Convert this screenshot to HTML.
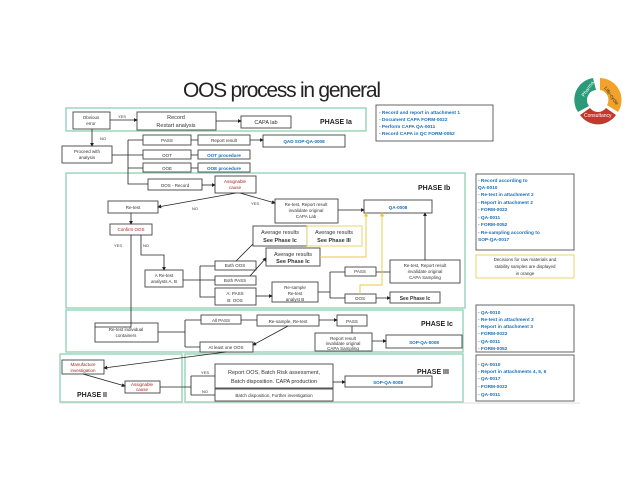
<!DOCTYPE html>
<html><head><meta charset="utf-8"><style>
html,body{margin:0;padding:0;background:#fff;width:638px;height:493px;overflow:hidden}
svg{display:block}
text{font-family:"Liberation Sans",sans-serif}
</style></head><body>
<svg width="638" height="493" viewBox="0 0 638 493" xmlns="http://www.w3.org/2000/svg">
<defs><marker id="a" markerWidth="5" markerHeight="5" refX="4" refY="2.5" orient="auto"><path d="M0,0L5,2.5L0,5z" fill="#222"/></marker>
<marker id="y" markerWidth="5" markerHeight="5" refX="4" refY="2.5" orient="auto"><path d="M0,0L5,2.5L0,5z" fill="#e8c840"/></marker></defs>
<text x="183" y="97" font-size="21" textLength="198" fill="#222">OOS process in general</text>
<!-- logo -->
<g transform="translate(598,100)">
<path d="M-5,-22 A22,22 0 0 0 -20,12 L-9,6 A10,10 0 0 1 -2,-10z" fill="#2a9a78"/>
<path d="M2,-22 A22,22 0 0 1 20,12 L9,5 A10,10 0 0 0 2,-10z" fill="#f0a22a"/>
<path d="M18,15 A22,22 0 0 1 -18,15 L-8,8 A10,10 0 0 0 8,8z" fill="#c0392b"/>
<text x="-14" y="-3" font-size="5" fill="#fff" transform="rotate(-55 -14 -3)">Pharma</text>
<text x="6" y="-12" font-size="5" fill="#333" transform="rotate(55 6 -12)">Life-cycle</text>
<text x="-14" y="17" font-size="5" fill="#fff">Consultancy</text>
</g>
<g fill="none" stroke-width="1.3">
<rect x="66" y="108" width="300" height="23" stroke="#8fd0b4"/>
<rect x="66" y="173" width="399" height="135" stroke="#8fd0b4"/>
<rect x="66" y="310" width="397" height="42" stroke="#8fd0b4"/>
<rect x="60" y="354" width="122" height="48" stroke="#8fd0b4"/>
<rect x="185" y="354" width="278" height="48" stroke="#8fd0b4"/>
</g>
<line x1="60" y1="403" x2="580" y2="403" stroke="#ddd"/>
<g fill="#fff" stroke="#444" stroke-width="0.9">
<rect x="73" y="112" width="37" height="17"/><rect x="137" y="112" width="79" height="18"/><rect x="241" y="116" width="50" height="12"/>
<rect x="62" y="146" width="50" height="17"/>
<rect x="143" y="135" width="48" height="10"/><rect x="198" y="135" width="52" height="10"/><rect x="263" y="135" width="82" height="12"/>
<rect x="143" y="150" width="48" height="9"/><rect x="198" y="150" width="52" height="9"/>
<rect x="143" y="163" width="48" height="9"/><rect x="198" y="163" width="52" height="9"/>
<rect x="148" y="179" width="54" height="11"/><rect x="215" y="176" width="41" height="17"/>
<rect x="108" y="201" width="50" height="12"/><rect x="275" y="199" width="63" height="24"/><rect x="364" y="200" width="68" height="13"/>
<rect x="110" y="224" width="42" height="11"/>
<rect x="253" y="226" width="54" height="20"/><rect x="307" y="226" width="55" height="20" stroke="#e8d060"/><rect x="266" y="248" width="54" height="18"/>
<rect x="145" y="270" width="38" height="17"/>
<rect x="215" y="261" width="41" height="9"/><rect x="215" y="276" width="41" height="9"/><rect x="215" y="288" width="41" height="17"/>
<rect x="272" y="282" width="46" height="20"/>
<rect x="345" y="267" width="31" height="9"/><rect x="345" y="294" width="31" height="9"/><rect x="390" y="292" width="50" height="11"/>
<rect x="390" y="260" width="70" height="23"/>
<rect x="95" y="323" width="63" height="19"/><rect x="201" y="315" width="40" height="9"/><rect x="257" y="315" width="62" height="11"/><rect x="337" y="315" width="30" height="11"/>
<rect x="315" y="333" width="57" height="18"/><rect x="386" y="335" width="76" height="13"/><rect x="200" y="342" width="53" height="10"/>
<rect x="62" y="360" width="42" height="14"/><rect x="125" y="381" width="35" height="12"/>
<rect x="215" y="364" width="118" height="24"/><rect x="215" y="389" width="118" height="12"/><rect x="345" y="376" width="87" height="11"/>
<rect x="376" y="105" width="117" height="36" stroke="#555"/>
<rect x="476" y="174" width="98" height="76" stroke="#555"/>
<rect x="476" y="255" width="98" height="23" stroke="#e8d060"/>
<rect x="476" y="305" width="98" height="47" stroke="#555"/>
<rect x="476" y="355" width="98" height="46" stroke="#555"/>
</g>
<g stroke="#222" stroke-width="0.8" fill="none">
<path d="M110 120H137" marker-end="url(#a)"/><path d="M216 121H241" marker-end="url(#a)"/>
<path d="M92 129V146" marker-end="url(#a)"/>
<path d="M112 155H128M128 140V184H148M128 140H143M128 155H143M128 168H143" />
<path d="M191 140H198M191 155H198M191 168H198M250 140H263" marker-end="url(#a)"/>
<path d="M202 185H215" marker-end="url(#a)"/>
<path d="M236 193L158 207" marker-end="url(#a)"/>
<path d="M240 193L275 203" marker-end="url(#a)"/>
<path d="M338 210H364" marker-end="url(#a)"/>
<path d="M131 213V224" marker-end="url(#a)"/>
<path d="M131 235V327H95"/><path d="M141 235V255H164V270" marker-end="url(#a)"/>
<path d="M183 280H200M200 266V297H215M200 266H215M200 280H215" />
<path d="M236 261L253 244M250 276L266 258" marker-end="url(#a)"/>
<path d="M256 296H272" marker-end="url(#a)"/>
<path d="M318 292H330M330 272V298M330 272H345M330 298H345"/>
<path d="M376 272H390M376 298H390" marker-end="url(#a)"/>
<path d="M425 260V213" marker-end="url(#a)"/>
<path d="M158 332H185M185 320V347M185 320H201M185 347H200" />
<path d="M241 320H257M319 320H337" marker-end="url(#a)"/>
<path d="M288 326L253 345" marker-end="url(#a)"/>
<path d="M352 326V333M372 341H386" marker-end="url(#a)"/>
<path d="M226 352L104 368" marker-end="url(#a)"/>
<path d="M83 374L125 386" marker-end="url(#a)"/>
<path d="M160 387H191M191 376V395M191 376H215M191 395H215"/>
<path d="M333 382H345" marker-end="url(#a)"/>
</g>
<g stroke="#e8c840" stroke-width="0.9" fill="none">
<path d="M320 257H366V213" marker-end="url(#y)"/><path d="M360 294V285H382V213" marker-end="url(#y)"/>
</g>
<g font-size="4.5" fill="#333" text-anchor="middle">
<text x="91" y="119">Obvious</text><text x="91" y="125">error</text>
<text x="176" y="119" font-size="5.5">Record</text><text x="176" y="127" font-size="5.5">Restart analysis</text>
<text x="266" y="124" font-size="5.5">CAPA lab</text>
<text x="87" y="153">Proceed with</text><text x="87" y="159">analysis</text>
<text x="167" y="142">PASS</text><text x="224" y="142">Report result</text>
<text x="167" y="157">OOT</text><text x="167" y="170">OOE</text>
<text x="175" y="187">OOS - Record</text><text x="235" y="183" fill="#a22">Assignable</text><text x="235" y="189" fill="#a22">cause</text>
<text x="133" y="209">Re-test</text>
<text x="306" y="206">Re-test, Report result</text><text x="306" y="212">invalidate original</text><text x="306" y="218">CAPA Lab</text>
<text x="131" y="231" fill="#a22">Confirm OOS</text>
<text x="280" y="234" font-size="5.5">Average results</text><text x="280" y="242" font-size="5.5" font-weight="bold">See Phase Ic</text>
<text x="334" y="234" font-size="5.5">Average results</text><text x="334" y="242" font-size="5.5" font-weight="bold">See Phase III</text>
<text x="293" y="256" font-size="5.5">Average results</text><text x="293" y="263" font-size="5.5" font-weight="bold">See Phase Ic</text>
<text x="164" y="277">A Re-test</text><text x="164" y="283">analysts A, B</text>
<text x="235" y="267">Both OOS</text><text x="235" y="282">Both PASS</text><text x="235" y="295">A: PASS</text><text x="235" y="302">B: OOS</text>
<text x="295" y="289">Re-sample</text><text x="295" y="295">Re-test</text><text x="295" y="301">analyst B</text>
<text x="360" y="273">PASS</text><text x="360" y="300">OOS</text><text x="415" y="300" font-size="5" font-weight="bold">See Phase Ic</text>
<text x="425" y="267">Re-test, Report result</text><text x="425" y="273">invalidate original</text><text x="425" y="279">CAPA Sampling</text>
<text x="126" y="331">Re-test individual</text><text x="126" y="337">containers</text>
<text x="221" y="322">All PASS</text><text x="288" y="323">Re-sample, Re-test</text><text x="352" y="323">PASS</text>
<text x="343" y="340">Report result</text><text x="343" y="345">invalidate original</text><text x="343" y="350">CAPA Sampling</text>
<text x="226" y="349">At least one OOS</text>
<text x="83" y="366" fill="#a22">Manufacture</text><text x="83" y="372" fill="#a22">investigation</text>
<text x="142" y="386" fill="#a22">Assignable</text><text x="142" y="391" fill="#a22">cause</text>
<text x="274" y="374" font-size="5.5">Report OOS, Batch Risk assessment,</text><text x="274" y="383" font-size="5.5">Batch disposition. CAPA production</text>
<text x="274" y="397">Batch disposition, Further investigation</text>
<text x="525" y="261">Decisions for raw materials and</text><text x="525" y="268">stability samples are displayed</text><text x="525" y="275">in orange</text>
<text x="122" y="118" font-size="4">YES</text><text x="103" y="140" font-size="4">NO</text>
<text x="195" y="210" font-size="4">NO</text><text x="255" y="205" font-size="4">YES</text>
<text x="118" y="247" font-size="4">YES</text><text x="146" y="247" font-size="4">NO</text>
<text x="205" y="374" font-size="4">YES</text><text x="205" y="393" font-size="4">NO</text>
</g>
<g font-size="4.6" fill="#1a6fb8" text-anchor="middle" font-weight="bold">
<text x="304" y="143">QAD  SOP-QA-0008</text><text x="224" y="157">OOT procedure</text><text x="224" y="170">OOE procedure</text>
<text x="398" y="209">QA-0008</text><text x="424" y="344">SOP-QA-0008</text><text x="388" y="384">SOP-QA-0008</text>
</g>
<g font-size="7" font-weight="bold" fill="#222">
<text x="320" y="124">PHASE Ia</text><text x="418" y="190">PHASE Ib</text><text x="421" y="326">PHASE Ic</text>
<text x="417" y="374">PHASE III</text><text x="77" y="397">PHASE II</text>
</g>
<g font-size="4.8" fill="#1a6fb8" font-weight="bold">
<text x="379" y="114">- Record and report in attachment 1</text><text x="379" y="121">- Document CAPA  FORM-0022</text><text x="379" y="128">- Perform CAPA  QA-0011</text><text x="379" y="135">- Record CAPA in QC  FORM-0052</text>
<text x="478" y="182">- Record according to</text><text x="478" y="189">QA-0010</text><text x="478" y="196">- Re-test in attachment 2</text><text x="478" y="204">- Report in attachment 2</text><text x="478" y="211">- FORM-0022</text><text x="478" y="219">- QA-0011</text><text x="478" y="226">- FORM-0052</text><text x="478" y="234">- Re-sampling according to</text><text x="478" y="241">SOP-QA-0017</text>
<text x="478" y="314">- QA-0010</text><text x="478" y="321">- Re-test in attachment 3</text><text x="478" y="328">- Report in attachment 3</text><text x="478" y="335">- FORM-0022</text><text x="478" y="343">- QA-0011</text><text x="478" y="350">- FORM-0052</text>
<text x="478" y="366">- QA-0010</text><text x="478" y="373">- Report in attachments 4, 5, 6</text><text x="478" y="380">- QA-0017</text><text x="478" y="388">- FORM-0022</text><text x="478" y="396">- QA-0011</text>
</g>
</svg>
</body></html>
